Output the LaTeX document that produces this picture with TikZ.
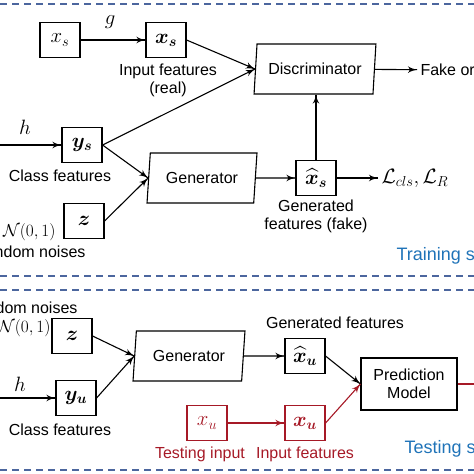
\documentclass[tikz,border=0pt]{standalone}
\usepackage{amsmath}
\usepackage{amssymb}
\usepackage{bm}
\usepackage{fontspec}
\setmainfont{Liberation Sans}
\usepackage{tikz}
\usetikzlibrary{arrows}
\usetikzlibrary{decorations.markings}
\usetikzlibrary{shapes.geometric}
\tikzset{->/.style = {decoration={markings,
                                  mark=at position 1 with {\arrow[scale=1.5]{latex'}}},
                      postaction={decorate}}}
\tikzset{box/.style = {draw, minimum width=40pt, minimum height=35pt, inner sep=0pt,
                       font=\fontsize{22}{24}\selectfont}}
\tikzset{block/.style = {draw, trapezium, trapezium left angle=80, trapezium right angle=100,
                         trapezium stretches=true, minimum height=50pt}}
\tikzset{sym/.style = {font=\fontsize{20}{22}\selectfont}}
\tikzset{stage/.style = {mblue, dash pattern=on 7pt off 5pt, line width=1.3pt}}
\definecolor{mblue}{rgb}{0.3, 0.4, 0.62}
\definecolor{mred}{rgb}{0.65, 0.1, 0.15}
\definecolor{tblue}{rgb}{0.12, 0.45, 0.72}

\begin{document}
\begin{tikzpicture}[x=1pt, y=-1pt, line width=1.1pt, inner sep=1pt, font=\fontsize{16}{18}\selectfont]
    \useasboundingbox (0, 0) rectangle (474, 474);
    \clip (0, 0) rectangle (474, 474);

    \draw [stage] (0, 4) -- (474, 4);
    \draw [stage] (0, 276) -- (474, 276);
    \draw [stage] (0, 290) -- (474, 290);
    \draw [stage] (0, 470) -- (474, 470);

    % training
    \node [box] (xs) at (60, 40) {$x_s$};
    \node [box] (xsf) at (166, 40) {$\bm{x}_{\bm{s}}$};
    \node [block, minimum width=123pt] (dis) at (315, 69) {Discriminator};
    \node [box] (ys) at (82, 145) {$\bm{y}_{\bm{s}}$};
    \node [block, minimum width=110pt] (gen) at (202, 178) {Generator};
    \node [box] (zs) at (84, 221) {$\bm{z}$};
    \node [box] (xhs) at (316, 178) {$\widehat{\bm{x}}_{\bm{s}}$};
    \node [right, inner sep=3pt] (fake) at (417, 70) {Fake or real};
    \node [right, sym, inner sep=3pt] (loss) at (378, 178) {$\mathcal{L}_{cls}, \mathcal{L}_R$};
    \coordinate (hs) at (-5, 145);

    \node [sym] (gl) at (110, 22) {$g$};
    \node [sym] (hsl) at (25, 127) {$h$};
    \node [align=center] (realtxt) at (168, 80) {Input features\\(real)};
    \node (classs) at (60, 176) {Class features};
    \node [left, font=\fontsize{17}{18}\selectfont] (ns) at (57, 232) {$\mathcal{N}(0,1)$};
    \node [left] (noises) at (87, 252) {Random noises};
    \node [align=center] (faketxt) at (316, 216) {Generated\\features (fake)};
    \node [right, tblue, font=\fontsize{18}{20}\selectfont] (train) at (395, 256) {Training stage};

    \draw [->] (xs) -- (xsf);
    \draw [->] (xsf.east) -- (dis.west);
    \draw [->] (ys.east) -- (dis.west);
    \draw [->] (hs) -- (ys);
    \draw [->] (ys.east) -- (gen.west);
    \draw [->] (zs.east) -- (gen.west);
    \draw [->] (gen) -- (xhs);
    \draw [->] (xhs.north) -- (xhs.north |- dis.south);
    \draw [->] (dis) -- (fake);
    \draw [->] (xhs) -- (loss);

    % testing
    \node [box] (zu) at (72, 336) {$\bm{z}$};
    \node [block, minimum width=112pt] (genu) at (189, 356) {Generator};
    \node [box] (yu) at (76, 398) {$\bm{y}_{\bm{u}}$};
    \node [box] (xhu) at (305, 356) {$\widehat{\bm{x}}_{\bm{u}}$};
    \node [draw, minimum width=96pt, minimum height=52pt, align=center] (pm) at (409, 384) {Prediction\\Model};
    \node [box, mred] (xu) at (207, 423) {$x_u$};
    \node [box, mred] (xuf) at (305, 423) {$\bm{x}_{\bm{u}}$};
    \coordinate (hu) at (-5, 398);
    \coordinate (out) at (484, 384);

    \node [left] (noiseu) at (79, 308) {Random noises};
    \node [left, font=\fontsize{17}{18}\selectfont] (nu) at (52, 328) {$\mathcal{N}(0,1)$};
    \node [sym] (hul) at (20, 384) {$h$};
    \node (classu) at (60, 430) {Class features};
    \node (gentxt) at (335, 323) {Generated features};
    \node [mred] (testin) at (200, 454) {Testing input};
    \node [mred] (inpu) at (305, 454) {Input features};
    \node [right, tblue, font=\fontsize{18}{20}\selectfont] (test) at (403, 449) {Testing stage};

    \draw [->] (hu) -- (yu);
    \draw [->] (zu.east) -- (genu.west);
    \draw [->] (yu.east) -- (genu.west);
    \draw [->] (genu) -- (xhu);
    \draw [->] (xhu.east) -- (pm.west);
    \draw [->, mred] (xu) -- (xuf);
    \draw [->, mred] (xuf.east) -- (pm.west);
    \draw [->, mred] (pm) -- (out);
\end{tikzpicture}
\end{document}
